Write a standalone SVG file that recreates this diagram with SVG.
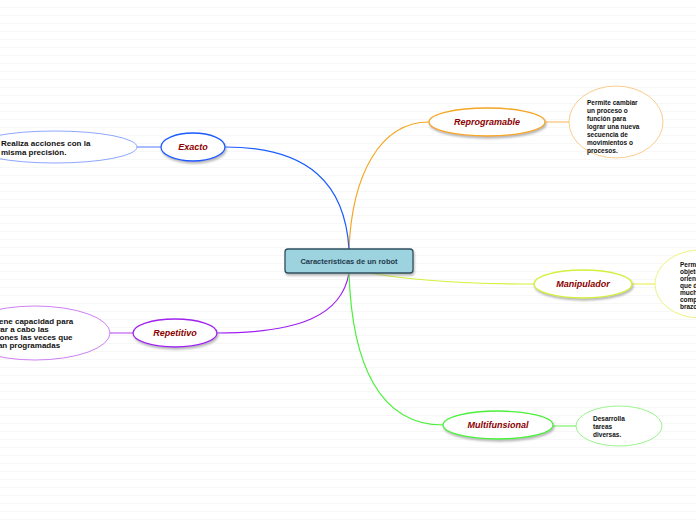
<svg xmlns="http://www.w3.org/2000/svg" width="696" height="520" viewBox="0 0 696 520">
<defs>
<pattern id="bg" width="8" height="8" patternUnits="userSpaceOnUse"><rect width="8" height="8" fill="#fff"/><line x1="0" y1="7.5" x2="8" y2="7.5" stroke="#f7f7f7" stroke-width="1"/></pattern>
<filter id="sh" x="-20%" y="-20%" width="140%" height="160%"><feDropShadow dx="1" dy="2" stdDeviation="1" flood-color="#888" flood-opacity="0.6"/></filter>
</defs>
<style>
.lbl{font-family:"Liberation Sans",Arial,sans-serif;font-size:9px;font-weight:bold;font-style:italic;fill:#8b0000;text-anchor:middle}
.leaf{font-family:"Liberation Sans",Arial,sans-serif;font-size:6.5px;font-weight:bold;fill:#111}
.leaf8{font-family:"Liberation Sans",Arial,sans-serif;font-size:8px;font-weight:bold;fill:#111}
.c{fill:none;stroke-width:1.2}
.n{fill:#fff;stroke-width:1.3}
.lf{fill:#fff;stroke-width:0.8}
</style>
<rect width="696" height="520" fill="url(#bg)"/>
<g id="connectors">
<path class="c" stroke="#f5a623" d="M349,249 C352,175 380,122 429,122"/>
<path class="c" stroke="#1a5cff" d="M349,249 C345,185 310,147 225,147"/>
<path class="c" stroke="#a020f0" d="M349,273 C342,315 300,333 217,333"/>
<path class="c" stroke="#d4f03c" d="M370,273 C420,282 480,284 534,284"/>
<path class="c" stroke="#4cf03c" d="M349,273 C352,365 380,425 443,425"/>
<line class="c" stroke="#f8c070" x1="545" y1="122" x2="569" y2="122"/>
<line class="c" stroke="#7090ff" x1="137" y1="147" x2="161" y2="147"/>
<line class="c" stroke="#c060f0" x1="110" y1="333" x2="133" y2="333"/>
<line class="c" stroke="#e8f060" x1="632" y1="284" x2="656" y2="284"/>
<line class="c" stroke="#80f070" x1="553" y1="426" x2="577" y2="426"/>
</g>
<g id="center">
<rect x="285" y="249" width="128" height="24" rx="3" fill="#9dd2df" stroke="#2f4f5f" stroke-width="1.3" filter="url(#sh)"/>
<text x="349" y="264" text-anchor="middle" font-family="Liberation Sans,Arial,sans-serif" font-size="7.5" font-weight="bold" fill="#1f3a4a">Características de un robot</text>
</g>
<g id="reprogramable">
<ellipse class="n" cx="487" cy="122" rx="58" ry="14" stroke="#f5a623" filter="url(#sh)"/>
<text class="lbl" x="487" y="125">Reprogramable</text>
</g>
<g id="reprogramable-leaf">
<ellipse class="lf" cx="616" cy="122" rx="47" ry="36" stroke="#f8c070"/>
<text class="leaf"><tspan x="587" y="105">Permite cambiar</tspan><tspan x="587" y="113">un proceso o</tspan><tspan x="587" y="121">función para</tspan><tspan x="587" y="129">lograr una nueva</tspan><tspan x="587" y="137">secuencia de</tspan><tspan x="587" y="145">movimientos o</tspan><tspan x="587" y="153">procesos.</tspan></text>
</g>
<g id="exacto">
<ellipse class="n" cx="193" cy="147" rx="32" ry="14" stroke="#1a5cff" filter="url(#sh)"/>
<text class="lbl" x="193" y="150">Exacto</text>
</g>
<g id="exacto-leaf">
<ellipse class="lf" cx="55" cy="147" rx="82" ry="16" stroke="#7090ff"/>
<text class="leaf8"><tspan x="1" y="146">Realiza acciones con la</tspan><tspan x="1" y="155">misma precisión.</tspan></text>
</g>
<g id="repetitivo">
<ellipse class="n" cx="175" cy="333" rx="42" ry="14" stroke="#a020f0" filter="url(#sh)"/>
<text class="lbl" x="175" y="336">Repetitivo</text>
</g>
<g id="repetitivo-leaf">
<ellipse class="lf" cx="35" cy="333" rx="75" ry="27" stroke="#c060f0"/>
<text class="leaf8"><tspan x="-8" y="324">Tiene capacidad para</tspan><tspan x="-13" y="332">llevar a cabo las</tspan><tspan x="-16" y="340">acciones las veces que</tspan><tspan x="-11" y="348">sean programadas</tspan></text>
</g>
<g id="manipulador">
<ellipse class="n" cx="583" cy="284" rx="49" ry="14" stroke="#d4f03c" filter="url(#sh)"/>
<text class="lbl" x="583" y="287">Manipulador</text>
</g>
<g id="manipulador-leaf">
<ellipse class="lf" cx="700" cy="284" rx="45" ry="34" stroke="#e8f060"/>
<text class="leaf"><tspan x="680" y="267">Permite</tspan><tspan x="680" y="274">objetos</tspan><tspan x="680" y="281">orientar</tspan><tspan x="680" y="288">que de</tspan><tspan x="680" y="295">muchas</tspan><tspan x="680" y="302">compo</tspan><tspan x="680" y="309">brazo</tspan></text>
</g>
<g id="multifunsional">
<ellipse class="n" cx="498" cy="425" rx="55" ry="14" stroke="#4cf03c" filter="url(#sh)"/>
<text class="lbl" x="498" y="428">Multifunsional</text>
</g>
<g id="multifunsional-leaf">
<ellipse class="lf" cx="619" cy="426" rx="43" ry="20" stroke="#80f070"/>
<text class="leaf"><tspan x="593" y="421">Desarrolla</tspan><tspan x="593" y="429">tareas</tspan><tspan x="593" y="437">diversas.</tspan></text>
</g>
</svg>
